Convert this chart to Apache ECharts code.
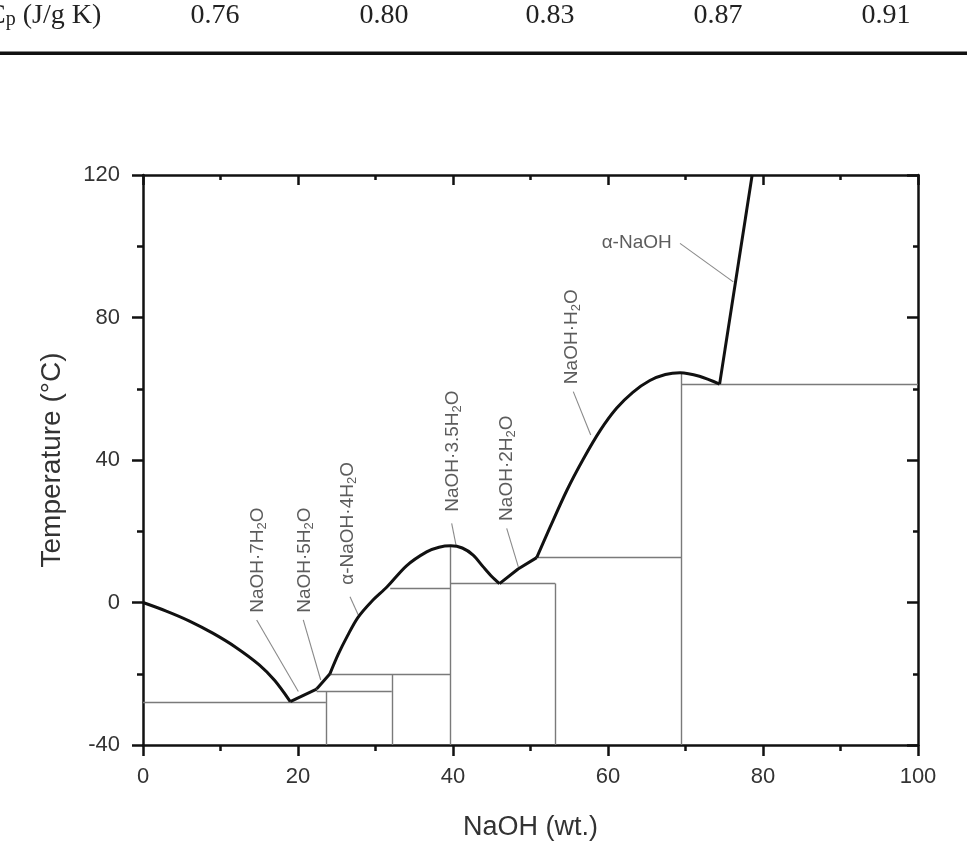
<!DOCTYPE html>
<html>
<head>
<meta charset="utf-8">
<title>NaOH-H2O phase diagram</title>
<script src="https://cdn.jsdelivr.net/npm/echarts@6/dist/echarts.min.js"></script>
<style>
  html, body { margin: 0; padding: 0; background: #fff; }
  #chart { width: 967px; height: 857px; }
</style>
</head>
<body>
<div id="chart"></div>
<script>
// last row of the table printed above the figure
const cpValues = ['0.76', '0.80', '0.83', '0.87', '0.91'];
const cpColumnX = [215, 384, 550, 718, 886];

// liquidus branches, [NaOH wt.%, T in °C]
const iceBranch = [[0, 0], [3, -2.4], [6, -5.2], [9, -8.6], [12, -12.6], [15, -17.5], [17, -21.9], [19, -27.8]];
const hepta = [[19, -27.8], [22.4, -24.3]];
const penta = [[22.4, -24.3], [24.1, -20.1]];
const tetra = [[24.1, -20.1], [25.2, -14.5], [26.4, -9.3], [27.7, -4.3], [29.5, 0.3], [31.5, 4.4],
  [34, 10.3], [36.6, 14.2], [38.2, 15.5], [39.7, 15.9], [41.2, 15.3], [42.6, 13.3], [43.9, 10],
  [45, 7.3], [46, 5.3]];
const di = [[46, 5.3], [48.4, 9.4], [50.8, 12.6]];
const mono = [[50.8, 12.6], [52.5, 21], [54.7, 31.5], [56.8, 40.2], [59, 48.3], [61.1, 54.5],
  [63.2, 59], [65.4, 62.3], [67.4, 64], [69.3, 64.5], [71.8, 63.5], [74.4, 61.3]];
const anhydrous = [[74.4, 61.3], [78.6, 120]];

// solidus / tie lines
const tieLines = [
  [[0, -28.1], [23.6, -28.1]],
  [[22.4, -25], [32.1, -25]],
  [[23.6, -40], [23.6, -25]],
  [[24.1, -20.1], [39.7, -20.1]],
  [[32.1, -40], [32.1, -20.1]],
  [[31.9, 4.0], [39.7, 4.0]],
  [[39.7, -40], [39.7, 15.9]],
  [[39.7, 5.3], [53.2, 5.3]],
  [[53.2, -40], [53.2, 5.3]],
  [[50.8, 12.6], [69.5, 12.6]],
  [[69.5, -40], [69.5, 64.5]],
  [[69.5, 61.2], [100, 61.2]]
];

// phase names, where they sit and the pointer lines
const phaseNames = ['NaOH·7H2O', 'NaOH·5H2O', 'α-NaOH·4H2O', 'NaOH·3.5H2O', 'NaOH·2H2O', 'NaOH·H2O', 'α-NaOH'];
const phaseAt = [[14.84, 11.9], [20.9, 11.9], [26.45, 22.2], [40.0, 42.5], [46.9, 37.7], [55.3, 74.6], [63.7, 100.9]];
const phaseTurn = [90, 90, 90, 90, 90, 90, 0];
const leaders = [
  [[14.67, -4.9], [20.04, -25.0]],
  [[20.68, -4.9], [22.93, -21.75]],
  [[26.71, 1.6], [27.78, -3.5]],
  [[39.83, 22.2], [40.39, 16.1]],
  [[46.93, 20.8], [48.43, 10.0]],
  [[55.52, 59.2], [57.77, 47.0]],
  [[69.29, 100.8], [76.17, 90.0]]
];

const font = '"Liberation Sans", Arial, Helvetica, sans-serif';
const chart = echarts.init(document.getElementById('chart'));

const axisLine = { onZero: false, lineStyle: { color: '#111', width: 2.5 } };

function branch(data, smooth) {
  return {
    type: 'line',
    data: data,
    smooth: smooth,
    symbol: 'none',
    silent: true,
    z: 5,
    lineStyle: { color: '#111', width: 3 }
  };
}

const option = {
  animation: false,
  backgroundColor: '#fff',
  grid: { left: 143, right: 49, top: 175, bottom: 112 },
  xAxis: [
    {
      type: 'value', min: 0, max: 100, interval: 20,
      name: 'NaOH (wt.)', nameLocation: 'middle', nameGap: 69,
      nameTextStyle: { fontFamily: font, fontSize: 27, color: '#333' },
      axisLine: axisLine,
      axisTick: { inside: false, length: 11, lineStyle: { color: '#111', width: 2.5 } },
      minorTick: { show: true, splitNumber: 2, length: 6, lineStyle: { color: '#111', width: 2.5 } },
      axisLabel: { fontFamily: font, fontSize: 22, color: '#333', margin: 21 },
      splitLine: { show: false }
    },
    {
      type: 'value', min: 0, max: 100, interval: 20, position: 'top',
      axisLine: axisLine,
      axisTick: { inside: true, length: 10, lineStyle: { color: '#111', width: 2.5 } },
      minorTick: { show: true, splitNumber: 2, length: 5, lineStyle: { color: '#111', width: 2.5 } },
      axisLabel: { show: false },
      splitLine: { show: false }
    }
  ],
  yAxis: [
    {
      type: 'value', min: -40, max: 120, interval: 40,
      name: 'Temperature (°C)', nameLocation: 'middle', nameGap: 77,
      nameTextStyle: { fontFamily: font, fontSize: 28, color: '#333' },
      axisLine: axisLine,
      axisTick: { inside: false, length: 11, lineStyle: { color: '#111', width: 2.5 } },
      minorTick: { show: true, splitNumber: 2, length: 6, lineStyle: { color: '#111', width: 2.5 } },
      axisLabel: { fontFamily: font, fontSize: 22, color: '#333', margin: 23 },
      splitLine: { show: false }
    },
    {
      type: 'value', min: -40, max: 120, interval: 40, position: 'right',
      axisLine: axisLine,
      axisTick: { inside: true, length: 11, lineStyle: { color: '#111', width: 2.5 } },
      minorTick: { show: true, splitNumber: 2, length: 5, lineStyle: { color: '#111', width: 2.5 } },
      axisLabel: { show: false },
      splitLine: { show: false }
    }
  ],
  series: [
    {
      type: 'lines',
      coordinateSystem: 'cartesian2d',
      silent: true,
      z: 2,
      lineStyle: { color: '#7a7a7a', width: 1.4, opacity: 1 },
      data: tieLines.map(function (c) { return { coords: c }; })
    },
    {
      type: 'lines',
      coordinateSystem: 'cartesian2d',
      silent: true,
      z: 2,
      lineStyle: { color: '#8a8a8a', width: 1.1, opacity: 1 },
      data: leaders.map(function (c) { return { coords: c }; })
    },
    branch(iceBranch, 0.3),
    branch(hepta, false),
    branch(penta, false),
    branch(tetra, 0.3),
    branch(di, false),
    branch(mono, 0.3),
    branch(anhydrous, false),
    {
      type: 'scatter',
      symbolSize: 0,
      silent: true,
      z: 6,
      data: phaseNames.map(function (n, i) {
        return {
          name: n,
          value: phaseAt[i],
          label: { rotate: phaseTurn[i] }
        };
      }),
      label: {
        show: true,
        position: 'inside',
        fontFamily: font,
        fontSize: 19,
        lineHeight: 22,
        color: '#333',
        formatter: function (p) { return p.name.replace('H2O', 'H{sub|2}O'); },
        rich: {
          sub: { fontFamily: font, fontSize: 13, lineHeight: 13, verticalAlign: 'bottom', color: '#333' }
        }
      }
    }
  ],
  graphic: [
    {
      type: 'text', x: -13, y: 16,
      style: {
        text: 'C{sub|p} (J/g K)',
        font: '28px "Liberation Serif", "DejaVu Serif", serif',
        fill: '#222',
        verticalAlign: 'middle',
        rich: { sub: { fontSize: 20, fontFamily: '"Liberation Serif", serif', verticalAlign: 'bottom', lineHeight: 20, fill: '#222' } }
      }
    },
    {
      type: 'rect',
      shape: { x: 0, y: 51.5, width: 967, height: 3.5 },
      style: { fill: '#111' }
    }
  ].concat(cpValues.map(function (v, i) {
    return {
      type: 'text', x: cpColumnX[i], y: 16,
      style: {
        text: v,
        font: '28px "Liberation Serif", "DejaVu Serif", serif',
        fill: '#222',
        align: 'center',
        verticalAlign: 'middle'
      }
    };
  }))
};

chart.setOption(option);
</script>
</body>
</html>
